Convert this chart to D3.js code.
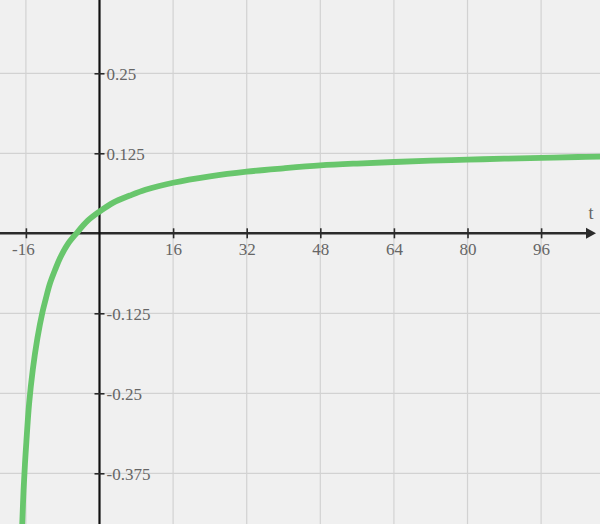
<!DOCTYPE html>
<html>
<head>
<meta charset="utf-8">
<script src="https://cdn.jsdelivr.net/npm/d3@7"></script>
<style>
  html, body { margin: 0; padding: 0; background: #f0f0f0; }
  svg { display: block; }
  .tick text { font-family: "Liberation Serif", serif; font-size: 17px; fill: #666; }
</style>
</head>
<body>
<div id="chart"></div>
<script>
// values
const tValues = [-16.8, -16.5, -16.2, -15.9, -15.3, -14.5, -13.5, -12.4, -11.7, -10.8, -9.6, -8.6, -7, -5, -2.5,
                 0, 3, 6.6, 10, 16, 24, 32, 40, 48, 56, 64, 72, 80, 88, 96, 104, 108.8];
const yValues = [-0.455, -0.400, -0.360, -0.326, -0.266, -0.213, -0.164, -0.123, -0.103, -0.079, -0.056, -0.039, -0.018, 0, 0.020,
                 0.034, 0.048, 0.059, 0.068, 0.079, 0.089, 0.0963, 0.1015, 0.1060, 0.109, 0.1114, 0.1135, 0.1150, 0.1166, 0.1179, 0.1192, 0.1198];
const xTicks = [-16, 16, 32, 48, 64, 80, 96];
const yTicks = [0.25, 0.125, -0.125, -0.25, -0.375];
const xGrid  = [-16, 16, 32, 48, 64, 80, 96, 112];
const yGrid  = [0.375, 0.25, 0.125, -0.125, -0.25, -0.375, -0.5];
const xLabel = 't';

const W = 600, H = 524;
const AXIS_COLOR = '#2b2b2b';
const GRID_COLOR = '#d2d2d2';
const CURVE_COLOR = '#68c66c';

const x = d3.scaleLinear().domain([-21.63, 108.8]).range([0, W]);
const y = d3.scaleLinear().domain([0.3645, -0.4542]).range([0, H]);

const svg = d3.select('#chart').append('svg')
  .attr('width', W).attr('height', H);

svg.append('rect').attr('width', W).attr('height', H).attr('fill', '#f0f0f0');

// grid
svg.append('g')
  .selectAll('line')
  .data(xGrid)
  .join('line')
  .attr('x1', d => x(d)).attr('x2', d => x(d))
  .attr('y1', 0).attr('y2', H)
  .attr('stroke', GRID_COLOR).attr('stroke-width', 1.2);

svg.append('g')
  .selectAll('line')
  .data(yGrid)
  .join('line')
  .attr('x1', 0).attr('x2', W)
  .attr('y1', d => y(d)).attr('y2', d => y(d))
  .attr('stroke', GRID_COLOR).attr('stroke-width', 1.2);

// axes lines
const x0 = x(0), y0 = y(0);
svg.append('line')
  .attr('x1', 0).attr('x2', 588).attr('y1', y0).attr('y2', y0)
  .attr('stroke', AXIS_COLOR).attr('stroke-width', 2.6);
svg.append('path')
  .attr('d', `M586,${y0 - 5.5}L596,${y0}L586,${y0 + 5.5}Z`)
  .attr('fill', AXIS_COLOR);
svg.append('line')
  .attr('x1', x0).attr('x2', x0).attr('y1', 0).attr('y2', H)
  .attr('stroke', '#111').attr('stroke-width', 2.2);

// x axis ticks + labels
const xAxis = svg.append('g')
  .attr('transform', `translate(0,${y0})`)
  .call(d3.axisBottom(x).tickValues(xTicks).tickSize(5).tickFormat(d => String(d)));
xAxis.select('.domain').remove();
xAxis.selectAll('.tick line')
  .attr('y1', -5).attr('y2', 5)
  .attr('stroke', AXIS_COLOR).attr('stroke-width', 1.6);
xAxis.selectAll('.tick text')
  .attr('y', 22).attr('dy', 0)
  .attr('dx', d => d < 0 ? -3 : 0);

// y axis ticks + labels
const yAxis = svg.append('g')
  .attr('transform', `translate(${x0},0)`)
  .call(d3.axisRight(y).tickValues(yTicks).tickSize(5).tickFormat(d => String(d)));
yAxis.select('.domain').remove();
yAxis.selectAll('.tick line')
  .attr('x1', -5).attr('x2', 5)
  .attr('stroke', AXIS_COLOR).attr('stroke-width', 1.6);
yAxis.selectAll('.tick text')
  .attr('x', 7).attr('dy', '0.34em');

svg.append('text')
  .attr('x', 591).attr('y', 219)
  .attr('text-anchor', 'middle')
  .attr('font-family', '"Liberation Serif", serif')
  .attr('font-size', '18px')
  .attr('fill', '#666')
  .text(xLabel);

// curve
const points = tValues.map((t, i) => [t, yValues[i]]);
const line = d3.line()
  .x(d => x(d[0]))
  .y(d => y(d[1]))
  .curve(d3.curveCatmullRom.alpha(0.5));

svg.append('clipPath').attr('id', 'plot-clip')
  .append('rect').attr('width', W).attr('height', H);

svg.append('path')
  .datum(points)
  .attr('clip-path', 'url(#plot-clip)')
  .attr('d', line)
  .attr('fill', 'none')
  .attr('stroke', CURVE_COLOR)
  .attr('stroke-width', 5.8)
  .attr('stroke-linecap', 'round');
</script>
</body>
</html>
